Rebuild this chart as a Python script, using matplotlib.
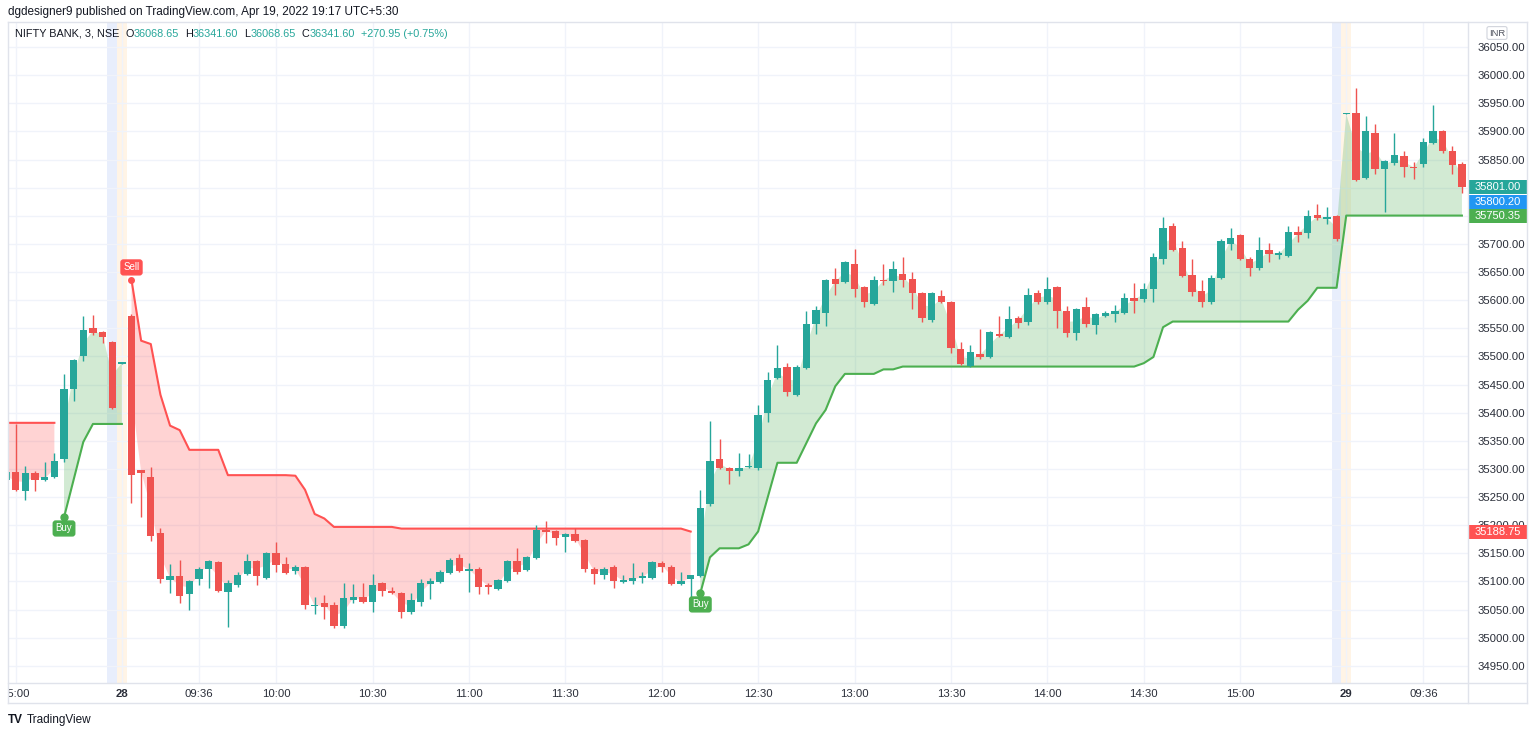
import numpy as np
import matplotlib
matplotlib.use("Agg")
import matplotlib.pyplot as plt
import matplotlib.transforms as mtransforms
from matplotlib.patches import Rectangle
from matplotlib.lines import Line2D

plt.rcParams['font.family'] = ['Liberation Sans', 'DejaVu Sans']

# 3 minute candles, bar index -1 .. 150
bar_idx = list(range(-1, 151))
opens = [35280, 35294, 35261, 35293, 35280, 35286, 35317, 35442, 35500, 35550, 35543,
         35526, 35487, 35572, 35298, 35285, 35186, 35103, 35110, 35078, 35104, 35122,
         35134, 35081, 35093, 35113, 35136, 35107, 35150, 35131, 35119, 35126, 35056,
         35061, 35058, 35021, 35068, 35073, 35063, 35097, 35083, 35079, 35045, 35064,
         35095, 35099, 35115, 35142, 35119, 35123, 35093, 35087, 35100, 35137, 35120,
         35142, 35192, 35189, 35179, 35184, 35174, 35123, 35112, 35125, 35099, 35101,
         35106, 35107, 35132, 35126, 35095, 35105, 35110, 35237, 35318, 35301, 35297,
         35303, 35301, 35399, 35462, 35482, 35432, 35480, 35558, 35578, 35638, 35633,
         35664, 35623, 35594, 35636, 35634, 35647, 35637, 35613, 35565, 35607, 35597,
         35513, 35483, 35505, 35499, 35538, 35535, 35569, 35562, 35612, 35596, 35623,
         35581, 35541, 35587, 35556, 35572, 35576, 35578, 35603, 35602, 35619, 35673,
         35731, 35692, 35645, 35616, 35596, 35640, 35700, 35715, 35673, 35657, 35690,
         35680, 35679, 35721, 35719, 35751, 35744, 35750, 35930, 35932, 35818, 35898,
         35834, 35843, 35856, 35837, 35842, 35879, 35901, 35866, 35842]
highs = [35298, 35380, 35306, 35297, 35312, 35329, 35469, 35496, 35571, 35574, 35546,
         35528, 35489, 35575, 35299, 35304, 35195, 35131, 35139, 35102, 35125, 35139,
         35136, 35103, 35116, 35148, 35138, 35152, 35171, 35144, 35130, 35127, 35072,
         35076, 35064, 35098, 35095, 35098, 35113, 35099, 35091, 35081, 35079, 35104,
         35106, 35120, 35142, 35148, 35133, 35125, 35098, 35105, 35139, 35160, 35146,
         35200, 35208, 35191, 35187, 35195, 35176, 35126, 35126, 35130, 35112, 35133,
         35116, 35137, 35136, 35130, 35117, 35112, 35263, 35385, 35353, 35303, 35329,
         35327, 35414, 35473, 35520, 35488, 35485, 35580, 35590, 35637, 35657, 35669,
         35691, 35625, 35643, 35664, 35670, 35676, 35650, 35615, 35614, 35618, 35599,
         35526, 35520, 35548, 35545, 35571, 35590, 35572, 35621, 35618, 35642, 35625,
         35590, 35586, 35606, 35578, 35580, 35591, 35612, 35631, 35630, 35683, 35747,
         35738, 35705, 35673, 35636, 35644, 35709, 35728, 35717, 35676, 35713, 35701,
         35688, 35731, 35731, 35760, 35771, 35765, 35752, 35932, 35977, 35927, 35914,
         35849, 35898, 35865, 35846, 35889, 35947, 35903, 35874, 35845]
lows = [35275, 35260, 35245, 35261, 35279, 35284, 35312, 35420, 35492, 35538, 35524,
        35406, 35487, 35239, 35215, 35172, 35098, 35079, 35062, 35049, 35094, 35088,
        35081, 35020, 35091, 35111, 35094, 35105, 35117, 35114, 35113, 35051, 35042,
        35033, 35017, 35018, 35062, 35062, 35046, 35074, 35077, 35036, 35042, 35057,
        35069, 35097, 35113, 35117, 35081, 35078, 35078, 35085, 35099, 35114, 35118,
        35140, 35168, 35165, 35153, 35170, 35116, 35095, 35104, 35088, 35097, 35095,
        35097, 35105, 35117, 35093, 35093, 35072, 35108, 35235, 35300, 35273, 35288,
        35302, 35299, 35383, 35460, 35430, 35430, 35478, 35540, 35554, 35610, 35630,
        35606, 35588, 35592, 35627, 35614, 35624, 35585, 35562, 35562, 35595, 35507,
        35485, 35481, 35495, 35497, 35535, 35533, 35550, 35555, 35594, 35594, 35551,
        35535, 35530, 35553, 35539, 35570, 35562, 35576, 35578, 35596, 35596, 35664,
        35687, 35641, 35607, 35588, 35594, 35638, 35689, 35672, 35643, 35653, 35668,
        35673, 35677, 35704, 35710, 35742, 35735, 35706, 35930, 35812, 35816, 35825,
        35756, 35841, 35819, 35815, 35836, 35877, 35861, 35825, 35790]
closes = [35295, 35262, 35293, 35280, 35286, 35315, 35442, 35494, 35547, 35541, 35535,
          35408, 35489, 35289, 35292, 35181, 35104, 35110, 35075, 35101, 35123, 35137,
          35083, 35097, 35112, 35136, 35109, 35150, 35130, 35115, 35125, 35058, 35058,
          35054, 35021, 35070, 35073, 35063, 35093, 35084, 35079, 35045, 35067, 35097,
          35100, 35116, 35138, 35119, 35123, 35090, 35090, 35103, 35137, 35116, 35144,
          35192, 35188, 35178, 35184, 35172, 35122, 35113, 35123, 35100, 35103, 35107,
          35109, 35134, 35125, 35095, 35100, 35111, 35231, 35314, 35302, 35297, 35301,
          35305, 35396, 35458, 35480, 35436, 35482, 35558, 35582, 35635, 35628, 35667,
          35620, 35597, 35636, 35634, 35655, 35635, 35613, 35569, 35612, 35597, 35515,
          35487, 35508, 35499, 35543, 35537, 35567, 35560, 35610, 35596, 35620, 35581,
          35542, 35584, 35557, 35576, 35577, 35580, 35603, 35599, 35620, 35676, 35728,
          35689, 35643, 35615, 35596, 35640, 35705, 35710, 35674, 35657, 35690, 35682,
          35683, 35721, 35715, 35750, 35746, 35748, 35708, 35932, 35814, 35901, 35833,
          35847, 35858, 35836, 35835, 35881, 35900, 35865, 35840, 35801]

# supertrend, downtrend (red) and uptrend (green), None where not active
st_down = ([35382, 35382, 35382, 35382, 35382, 35382]
           + [None] * 7
           + [35636, 35528, 35522, 35432, 35377, 35369, 35334, 35334, 35334, 35334,
              35289, 35289, 35289, 35289, 35289, 35289, 35289, 35288, 35263, 35220,
              35212, 35197, 35197, 35197, 35197, 35197, 35197, 35197,
              35194, 35194, 35194, 35194, 35194, 35194, 35194, 35194, 35194, 35194,
              35194, 35194, 35194, 35194, 35194, 35194, 35194, 35194, 35194, 35194,
              35194, 35194, 35194, 35194, 35194, 35194, 35194, 35194, 35194, 35194,
              35188.75]
           + [None] * 80)
st_up = ([None] * 6
         + [35214, 35281, 35348, 35380, 35380, 35380, 35380]
         + [None] * 59
         + [35079, 35143, 35159, 35159, 35159, 35166, 35189, 35250, 35311, 35311,
            35311, 35346, 35381, 35405, 35447, 35469, 35469, 35469, 35469, 35477,
            35477,
            35482, 35482, 35482, 35482, 35482, 35482, 35482, 35482, 35482, 35482,
            35482, 35482, 35482, 35482, 35482, 35482, 35482, 35482, 35482, 35482,
            35482, 35482, 35482, 35482, 35482,
            35488, 35499, 35552,
            35562, 35562, 35562, 35562, 35562, 35562, 35562, 35562, 35562, 35562,
            35562, 35562, 35562,
            35583, 35599, 35622, 35622, 35622,
            35750.35, 35750.35, 35750.35, 35750.35, 35750.35, 35750.35, 35750.35,
            35750.35, 35750.35, 35750.35, 35750.35, 35750.35, 35750.35])
buy_bars = [5, 71]
sell_bars = [12]
session_last_bars = [10, 137]
session_first_bars = [11, 138]

tick_bars = [0, 11, 19, 27, 37, 47, 57, 67, 77, 87, 97, 107, 117, 127, 138, 146]
tick_labels = ["15:00", "28", "09:36", "10:00", "10:30", "11:00", "11:30", "12:00",
               "12:30", "13:00", "13:30", "14:00", "14:30", "15:00", "29", "09:36"]
price_ticks = list(range(34950, 36051, 50))

last_close = 35801.00
last_mark = 35800.20
up_last = 35750.35
down_last = 35188.75

UP = '#26a69a'
DN = '#ef5350'
GREEN = '#4caf50'
RED = '#ff5252'
TXT = '#131722'

W, H = 1536, 735
fig = plt.figure(figsize=(W / 100, H / 100), dpi=100)
ax = fig.add_axes([8 / W, 1 - 683 / H, 1460 / W, 661 / H])
ax.set_xlim(-0.81, 150.63)
ax.set_ylim(34919.6, 36094.4)

x = np.array(bar_idx, dtype=float)
o = np.array(opens, dtype=float)
h = np.array(highs, dtype=float)
l = np.array(lows, dtype=float)
c = np.array(closes, dtype=float)
dn = np.array([np.nan if v is None else v for v in st_down], dtype=float)
up = np.array([np.nan if v is None else v for v in st_up], dtype=float)
mid = (o + c) / 2

# session break bands
for b in session_last_bars:
    ax.axvspan(b - 0.5, b + 0.5, color='#e8eefc', lw=0, zorder=0)
for b in session_first_bars:
    ax.axvspan(b - 0.5, b + 0.5, color='#fff4e6', lw=0, zorder=0)

# grid + ticks
ax.set_xticks(tick_bars)
ax.set_xticklabels(tick_labels)
ax.set_yticks(price_ticks)
# labels under the 35801 / 35750 price tags are hidden like on TradingView
ax.set_yticklabels(["" if p in (35800, 35750) else f"{p:.2f}" for p in price_ticks])
ax.grid(True, color='#f0f3fa', lw=1, zorder=0)
ax.set_axisbelow(True)

# supertrend fill + lines
ax.fill_between(x, dn, mid, where=~np.isnan(dn), color=RED, alpha=0.25, lw=0, zorder=1)
ax.fill_between(x, up, mid, where=~np.isnan(up), color=GREEN, alpha=0.25, lw=0, zorder=1)
ax.plot(x, dn, color=RED, lw=1.5, zorder=2)
ax.plot(x, up, color=GREEN, lw=1.5, zorder=2)

# candles
cols = [UP if cc >= oo else DN for oo, cc in zip(o, c)]
ax.vlines(x, l, h, colors=cols, lw=1, zorder=3)
body = np.maximum(np.abs(c - o), 2.5)
ax.bar(x, body, bottom=np.minimum(o, c), width=0.76, color=cols, lw=0, zorder=3)

# buy / sell signals
for b in buy_bars:
    v = up[bar_idx.index(b)]
    ax.plot(b, v, 'o', color=GREEN, ms=5, zorder=5)
    ax.annotate("Buy", (b, v), xytext=(0, -8), textcoords='offset points',
                ha='center', va='center', color='white', fontsize=7, zorder=6,
                bbox=dict(boxstyle='round,pad=0.25', fc=GREEN, ec=GREEN))
for b in sell_bars:
    v = dn[bar_idx.index(b)]
    ax.plot(b, v, 'o', color=RED, ms=4, zorder=5)
    ax.annotate("Sell", (b, v), xytext=(0, 9), textcoords='offset points',
                ha='center', va='center', color='white', fontsize=7, zorder=6,
                bbox=dict(boxstyle='round,pad=0.25', fc=RED, ec=RED))

# axes styling
for s in ax.spines.values():
    s.set_visible(False)
ax.yaxis.tick_right()
ax.tick_params(axis='both', length=0, labelsize=8.2, labelcolor='#2a2e39')
ax.tick_params(axis='y', pad=7)
ax.tick_params(axis='x', pad=4)
clip = mtransforms.TransformedBbox(mtransforms.Bbox([[8 / W, 0], [1468 / W, 1]]), fig.transFigure)
for t, s in zip(ax.get_xticklabels(), tick_labels):
    if len(s) == 2:
        t.set_fontweight('bold')
    t.set_clip_box(clip)
    t.set_clip_on(True)

# right axis price tags
trans = mtransforms.blended_transform_factory(ax.transAxes, ax.transData)
tag_w = 59 / 1460
tag_h = 14 / 0.5627
def tag(val, color, dy=0):
    tr = mtransforms.offset_copy(trans, fig=fig, x=0, y=dy, units='dots')
    ax.add_patch(Rectangle((1.0, val - tag_h / 2), tag_w, tag_h, transform=tr,
                           fc=color, ec='none', clip_on=False, zorder=10))
    ax.text(1.0 + tag_w / 2, val, f"{val:.2f}", transform=tr, ha='center',
            va='center', color='white', fontsize=8, zorder=11, clip_on=False)
tag(last_close, UP)
tag(last_mark, '#2196f3', dy=-14)
tag(up_last, GREEN)
tag(down_last, RED)

# frame lines
fc = '#e0e3eb'
for xs, ys in [([8, 1527], [22, 22]), ([8, 1527], [703, 703]), ([8, 8], [22, 703]),
               ([1527, 1527], [22, 703]), ([1468, 1468], [22, 703]),
               ([8, 1527], [683, 683])]:
    fig.add_artist(Line2D([v / W for v in xs], [1 - v / H for v in ys], color=fc, lw=1))

# header texts
fig.text(8 / W, 1 - 12 / H, "dgdesigner9 published on TradingView.com, Apr 19, 2022 19:17 UTC+5:30",
         fontsize=8.5, color=TXT, va='center')
legend = [("NIFTY BANK, 3, NSE", TXT, 6), ("O", TXT, 0), ("36068.65", UP, 6),
          ("H", TXT, 0), ("36341.60", UP, 6), ("L", TXT, 0), ("36068.65", UP, 6),
          ("C", TXT, 0), ("36341.60", UP, 6), ("+270.95 (+0.75%)", UP, 0)]
renderer = fig.canvas.get_renderer()
px = 15
for s, col, gap in legend:
    t = fig.text(px / W, 1 - 34 / H, s, fontsize=7.8, color=col, va='center')
    px = t.get_window_extent(renderer).x1 + gap
fig.text(1497 / W, 1 - 33 / H, "INR", fontsize=6.8, color='#50535e', ha='center', va='center',
         bbox=dict(boxstyle='round,pad=0.2', fc='white', ec='#d1d4dc', lw=0.8))

fig.text(8 / W, 1 - 720 / H, "TV", fontsize=8.5, fontweight='bold', color=TXT, va='center')
fig.text(27 / W, 1 - 720 / H, "TradingView", fontsize=8.5, color=TXT, va='center')

fig.savefig("out.png", dpi=100)
